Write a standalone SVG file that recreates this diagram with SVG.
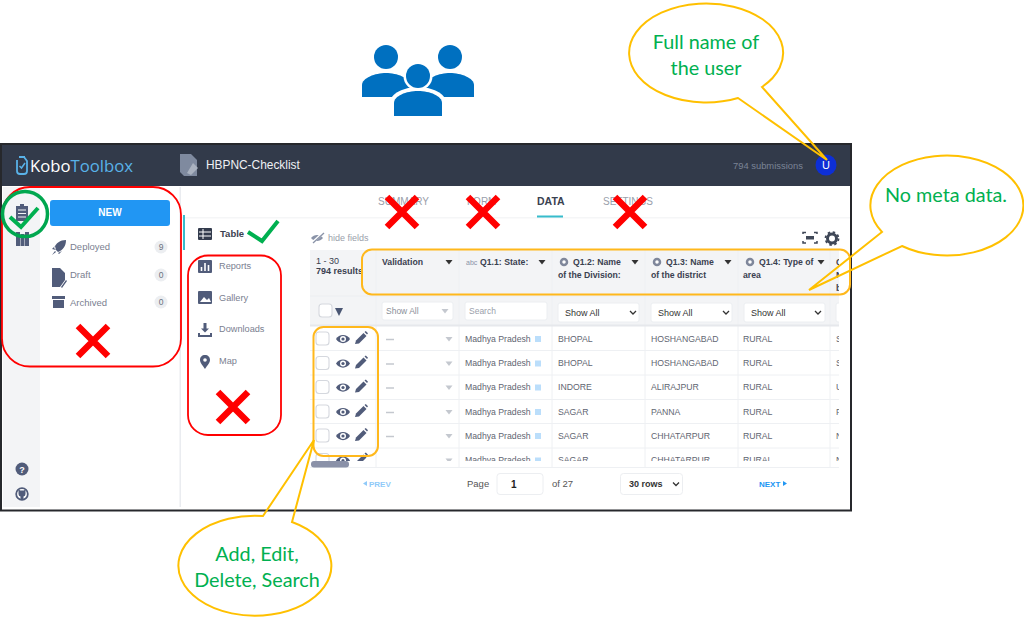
<svg xmlns="http://www.w3.org/2000/svg" xmlns:xlink="http://www.w3.org/1999/xlink" width="1024" height="618" viewBox="0 0 1024 618">
<style>
text{font-family:"Liberation Sans",Arial,sans-serif}
.ui{font-size:9.500px;fill:#7a8090}
.nav{font-size:9.200px;fill:#7a8090}
.hd{font-size:8.700px;font-weight:700;fill:#3a4150}
.cell{font-size:8.700px;fill:#5f6672}
.dark{font-size:9.500px;fill:#555}
.tab{font-size:10px;fill:#9aa0ab}
.call{font-family:Lato,"Noto Sans",sans-serif;font-size:19.800px;fill:#00b050;text-anchor:middle}
.bubble{fill:none;stroke:#ffc000;stroke-width:2}
.hl{fill:none;stroke:#ffb81c;stroke-width:2}
.redbox{fill:none;stroke:#ff0000;stroke-width:1.800}
.x{stroke:#ff0000;stroke-width:6.500;fill:none}
.chk{stroke:#00b050;stroke-width:4;fill:none}
.ic{fill:#515c7a}
.box{fill:#fff;stroke:#eceef1;stroke-width:1}
.cb{fill:#fff;stroke:#d5d8de;stroke-width:1.100}
.sep{stroke:#eef0f3;stroke-width:1}
</style>
<defs>
<g id="xmark"><path class="x" d="M-15,-15L15,15M15,-15L-15,15"/></g>
<g id="eye"><path class="ic" d="M-7,0C-4,-5.500 4,-5.500 7,0C4,5.500 -4,5.500 -7,0Z"/><circle r="3" fill="#fff"/><circle r="1.600" class="ic"/></g>
<g id="pencil"><path class="ic" d="M-6,6L-5,2.500L2.500,-5L5.500,-2L-2,5.500Z"/><path class="ic" d="M3.500,-6L4.800,-7L7,-4.800L6,-3.500Z"/></g>
<path id="caret" d="M-3.500,-2H3.500L0,2.500Z" fill="#333"/>
<path id="gcaret" d="M-3.500,-2H3.500L0,2.500Z" fill="#c4c8cf"/>
<path id="chev" d="M-3,-1.500L0,1.500L3,-1.500" fill="none" stroke="#333" stroke-width="1.300"/>
<clipPath id="rowclip"><rect x="310" y="327" width="529" height="134"/></clipPath>
<clipPath id="hdclip"><rect x="310" y="250" width="529" height="45"/></clipPath>
<clipPath id="fclip"><rect x="310" y="298" width="529" height="28"/></clipPath>
</defs>
<rect width="1024" height="618" fill="#fff"/>

<g id="people-icon" fill="#0070c0">
<circle cx="386" cy="57" r="12"/><circle cx="450" cy="57" r="12"/>
<path d="M362,97V85C362,78 375,73 386,73C397,73 410,78 410,85V97Z"/>
<path d="M426,97V85C426,78 439,73 450,73C461,73 474,78 474,85V97Z"/>
<circle cx="418" cy="76" r="14.500" fill="#fff"/>
<path d="M390,118V103C390,93 405,87 418,87C431,87 446,93 446,103V118Z" fill="#fff"/>
<circle cx="418" cy="76" r="12"/>
<path d="M394,116V103C394,96 406,91 418,91C430,91 442,96 442,103V116Z"/>
</g>

<g id="app-frame">
<rect x="1" y="144" width="850" height="366.500" fill="#fff" stroke="#26282c" stroke-width="2"/>
<rect x="2" y="145" width="848" height="41" fill="#323a4a"/>
<rect x="3" y="187" width="37" height="320" fill="#f3f4f6"/>
<rect x="179.500" y="187" width="1.500" height="320" fill="#eaecf0"/>
<rect x="181" y="217" width="669" height="1.500" fill="#f5f6f7"/>
</g>

<g id="header">
<path d="M19,157H25M17,160V171Q17,174 20,174H24Q27,174 27,171V161L24,157" fill="none" stroke="#59b2e8" stroke-width="1.800"/>
<path d="M19.500,166L21.500,168L25,163" fill="none" stroke="#59b2e8" stroke-width="1.500"/>
<text x="30" y="172" style="font-size:16.700px;fill:#fff;font-family:'Open Sans','Liberation Sans',sans-serif"><tspan>Kobo</tspan><tspan fill="#59b2e8">Toolbox</tspan></text>
<path d="M180,154H191L197,160V176H184L180,172Z" fill="#7f8a9f"/>
<path d="M187,173L193,163L198,168L191,175Z" fill="#aab2c0"/>
<text x="206" y="169" style="font-size:11.900px;fill:#eef0f4">HBPNC-Checklist</text>
<text x="733" y="169" style="font-size:9.400px;fill:#7b8496">794 submissions</text>
<circle cx="826" cy="165" r="10.500" fill="#0d2fd6"/>
<text x="826" y="169" text-anchor="middle" style="font-size:11px;fill:#fff">U</text>
</g>

<g id="sidebar">
<g class="ic">
<path d="M16,206H20V204H24V206H28V221H16Z"/>
<path d="M16,232H20V246H16ZM20.500,234H24.500V246H20.500ZM25,232H29V246H25Z"/>
</g>
<path d="M18,210H26M18,213.500H26M18,217H26" stroke="#f3f4f6" stroke-width="1.200"/>
<rect x="50" y="200" width="120" height="26" rx="3" fill="#2196f3"/>
<text x="110" y="216" text-anchor="middle" style="font-size:10px;font-weight:700;fill:#fff">NEW</text>
<path class="ic" d="M66,240C60,240 56,243 54,248L58,252C63,250 66,246 66,240ZM52,249L55,246L56,250ZM59,254L62,251L58,253ZM52,255L55,251L56,252Z"/>
<path class="ic" d="M52,268H60L65,273V280L60,287H52ZM61,287L66,280L67,281L62,288Z"/>
<path class="ic" d="M52,296H65V299H52ZM53,300H64V308H53Z"/>
<text class="ui" x="70" y="250">Deployed</text>
<text class="ui" x="70" y="278">Draft</text>
<text class="ui" x="70" y="306">Archived</text>
<g fill="#eceef1"><circle cx="161" cy="247" r="6.500"/><circle cx="161" cy="275" r="6.500"/><circle cx="161" cy="302" r="6.500"/></g>
<g style="font-size:8.500px;fill:#6b7280" text-anchor="middle"><text x="161" y="250">9</text><text x="161" y="278">0</text><text x="161" y="305">0</text></g>
<circle class="ic" cx="22" cy="469" r="6.500"/>
<text x="22" y="472.500" text-anchor="middle" style="font-size:9px;font-weight:700;fill:#fff">?</text>
<circle cx="22" cy="494" r="5.800" fill="#fff" stroke="#515c7a" stroke-width="1.800"/>
<path class="ic" d="M18.500,489.500L20.300,490.500H23.700L25.500,489.500V494Q25.500,496 23.500,496.500V499.500H20.500V496.500Q18.500,496 18.500,494Z"/>
</g>

<g id="view-nav">
<rect x="183" y="215" width="2" height="35" fill="#37bccc"/>
<rect x="198" y="228" width="14" height="12" rx="1" fill="#333b4d"/>
<path d="M199,232H211M199,236H211M203,229V239" stroke="#fff" stroke-width="1"/>
<text x="220" y="237" style="font-size:9.500px;font-weight:700;fill:#3a4150">Table</text>
<rect class="ic" x="198" y="260" width="14" height="13" rx="1"/>
<path d="M201.500,271V267M205,271V263M208.500,271V265" stroke="#fff" stroke-width="1.600"/>
<rect class="ic" x="198" y="291" width="14" height="13" rx="1"/>
<path d="M200,302L204,297L207,300L209,298L211,302Z" fill="#fff"/>
<path class="ic" d="M203.500,323H206.500V328.500H209L205,332.500L201,328.500H203.500ZM198,333H200V335H210V333H212V337H198Z"/>
<path class="ic" d="M205,355C208,355 210,357 210,360C210,363 206,367 205,369C204,367 200,363 200,360C200,357 202,355 205,355Z"/>
<circle cx="205" cy="360" r="1.800" fill="#fff"/>
<text class="nav" x="219" y="269">Reports</text>
<text class="nav" x="219" y="301">Gallery</text>
<text class="nav" x="219" y="332">Downloads</text>
<text class="nav" x="219" y="364">Map</text>
</g>

<g id="tabs">
<text class="tab" x="378" y="205">SUMMARY</text>
<text class="tab" x="467" y="205">FORM</text>
<text x="537" y="205" style="font-size:10.500px;font-weight:700;fill:#3a4150">DATA</text>
<rect x="537" y="215.500" width="26" height="2" fill="#37bccc"/>
<text class="tab" x="603" y="205">SETTINGS</text>
</g>

<g id="table-tools">
<path d="M311,238C314,234 320,234 323,238C320,242 314,242 311,238Z" fill="#8a93a8"/>
<path d="M312,243L323,233" stroke="#fff" stroke-width="2.500"/><path d="M313,243L324,233" stroke="#8a93a8" stroke-width="1.300"/>
<text x="328" y="241" style="font-size:9px;fill:#9aa0ab">hide fields</text>
<path d="M803,234V232.500H806M814,232.500H817V234M803,241V243H806M814,243H817V241" fill="none" stroke="#3f4757" stroke-width="1.500"/>
<rect x="806" y="236" width="8" height="3.500" fill="#3f4757"/>
<circle cx="832" cy="238.500" r="4.500" fill="none" stroke="#3f4757" stroke-width="3"/>
<circle cx="832" cy="238.500" r="6.500" fill="none" stroke="#3f4757" stroke-width="1.800" stroke-dasharray="2.500 2.600"/>
</g>

<g id="data-table">
<rect x="310" y="250" width="529" height="76" fill="#f3f4f6"/>
<g class="sep"><path d="M376,250V467M459,250V467M552,250V467M645,250V467M738,250V467M830,250V467"/></g>
<path d="M310,296H839" stroke="#eceef1"/>
<path d="M310,325.500H839" stroke="#e6e8ec" stroke-width="2"/>
<path class="sep" d="M310,350.500H839M310,375H839M310,399.500H839M310,423.500H839M310,448H839"/>
<path d="M310,467.500H839" stroke="#eef0f3"/>
<text x="316" y="264" style="font-size:9px;fill:#3a4150">1 - 30</text>
<text x="316" y="274" style="font-size:9px;font-weight:700;fill:#3a4150">794 results</text>
<g clip-path="url(#hdclip)">
<text class="hd" x="382" y="265">Validation</text>
<use xlink:href="#caret" href="#caret" x="449" y="262"/>
<text x="466" y="265" style="font-size:7px;fill:#8a93a8">abc</text>
<text class="hd" x="480" y="265">Q1.1: State:</text>
<use xlink:href="#caret" href="#caret" x="542" y="262"/>
<g fill="#fff" stroke="#7f879b" stroke-width="2.500"><circle cx="564" cy="262" r="3"/><circle cx="657" cy="262" r="3"/><circle cx="750" cy="262" r="3"/></g>
<text class="hd" x="573" y="265">Q1.2: Name</text><text class="hd" x="558" y="278">of the Division:</text>
<use xlink:href="#caret" href="#caret" x="635" y="262"/>
<text class="hd" x="666" y="265">Q1.3: Name</text><text class="hd" x="651" y="278">of the district</text>
<use xlink:href="#caret" href="#caret" x="728" y="262"/>
<text class="hd" x="759" y="265">Q1.4: Type of</text><text class="hd" x="743" y="278">area</text>
<use xlink:href="#caret" href="#caret" x="821" y="262"/>
<text class="hd" x="836" y="265">Q</text><text class="hd" x="836" y="278">N</text><text class="hd" x="836" y="291">b</text>
</g>
<rect class="cb" x="319" y="304" width="13" height="13" rx="3"/>
<path d="M335,308H343L339,316Z" fill="#4a5673"/>
<g clip-path="url(#fclip)">
<rect class="box" x="382" y="302" width="71" height="18" rx="2"/>
<text x="386" y="314" style="font-size:8.500px;fill:#8a8f99">Show All</text>
<use xlink:href="#gcaret" href="#gcaret" x="445" y="311"/>
<rect class="box" x="465" y="302" width="82" height="18" rx="2"/>
<text x="469" y="314" style="font-size:8.500px;fill:#9aa0ab">Search</text>
<rect class="box" x="558" y="303" width="81" height="19" rx="2"/><text x="565" y="315.500" style="font-size:9px;fill:#333">Show All</text><use xlink:href="#chev" href="#chev" x="633" y="312.500"/>
<rect class="box" x="651" y="303" width="81" height="19" rx="2"/><text x="658" y="315.500" style="font-size:9px;fill:#333">Show All</text><use xlink:href="#chev" href="#chev" x="726" y="312.500"/>
<rect class="box" x="744" y="303" width="81" height="19" rx="2"/><text x="751" y="315.500" style="font-size:9px;fill:#333">Show All</text><use xlink:href="#chev" href="#chev" x="818" y="312.500"/>
<rect class="box" x="836" y="303" width="20" height="19" rx="2"/>
</g>
<g clip-path="url(#rowclip)">
<g id="row1" transform="translate(0,339)"><rect class="cb" x="316" y="-7" width="13" height="13" rx="3"/><use xlink:href="#eye" href="#eye" x="343"/><use xlink:href="#pencil" href="#pencil" x="361" y="-1"/><path d="M386,0.500H394" stroke="#c4c8cf" stroke-width="1.500"/><use xlink:href="#gcaret" href="#gcaret" x="449"/><text class="cell" x="465" y="2.500">Madhya Pradesh</text><rect x="535" y="-3" width="6" height="6" fill="#bbdefb"/><text class="cell" x="558" y="2.500">BHOPAL</text><text class="cell" x="651" y="2.500">HOSHANGABAD</text><text class="cell" x="743" y="2.500">RURAL</text><text class="cell" x="836" y="2.500">S</text></g>
<g id="row2" transform="translate(0,363.500)"><rect class="cb" x="316" y="-7" width="13" height="13" rx="3"/><use xlink:href="#eye" href="#eye" x="343"/><use xlink:href="#pencil" href="#pencil" x="361" y="-1"/><path d="M386,0.500H394" stroke="#c4c8cf" stroke-width="1.500"/><use xlink:href="#gcaret" href="#gcaret" x="449"/><text class="cell" x="465" y="2.500">Madhya Pradesh</text><rect x="535" y="-3" width="6" height="6" fill="#bbdefb"/><text class="cell" x="558" y="2.500">BHOPAL</text><text class="cell" x="651" y="2.500">HOSHANGABAD</text><text class="cell" x="743" y="2.500">RURAL</text><text class="cell" x="836" y="2.500">S</text></g>
<g id="row3" transform="translate(0,387.500)"><rect class="cb" x="316" y="-7" width="13" height="13" rx="3"/><use xlink:href="#eye" href="#eye" x="343"/><use xlink:href="#pencil" href="#pencil" x="361" y="-1"/><path d="M386,0.500H394" stroke="#c4c8cf" stroke-width="1.500"/><use xlink:href="#gcaret" href="#gcaret" x="449"/><text class="cell" x="465" y="2.500">Madhya Pradesh</text><rect x="535" y="-3" width="6" height="6" fill="#bbdefb"/><text class="cell" x="558" y="2.500">INDORE</text><text class="cell" x="651" y="2.500">ALIRAJPUR</text><text class="cell" x="743" y="2.500">RURAL</text><text class="cell" x="836" y="2.500">U</text></g>
<g id="row4" transform="translate(0,412)"><rect class="cb" x="316" y="-7" width="13" height="13" rx="3"/><use xlink:href="#eye" href="#eye" x="343"/><use xlink:href="#pencil" href="#pencil" x="361" y="-1"/><path d="M386,0.500H394" stroke="#c4c8cf" stroke-width="1.500"/><use xlink:href="#gcaret" href="#gcaret" x="449"/><text class="cell" x="465" y="2.500">Madhya Pradesh</text><rect x="535" y="-3" width="6" height="6" fill="#bbdefb"/><text class="cell" x="558" y="2.500">SAGAR</text><text class="cell" x="651" y="2.500">PANNA</text><text class="cell" x="743" y="2.500">RURAL</text><text class="cell" x="836" y="2.500">F</text></g>
<g id="row5" transform="translate(0,436)"><rect class="cb" x="316" y="-7" width="13" height="13" rx="3"/><use xlink:href="#eye" href="#eye" x="343"/><use xlink:href="#pencil" href="#pencil" x="361" y="-1"/><path d="M386,0.500H394" stroke="#c4c8cf" stroke-width="1.500"/><use xlink:href="#gcaret" href="#gcaret" x="449"/><text class="cell" x="465" y="2.500">Madhya Pradesh</text><rect x="535" y="-3" width="6" height="6" fill="#bbdefb"/><text class="cell" x="558" y="2.500">SAGAR</text><text class="cell" x="651" y="2.500">CHHATARPUR</text><text class="cell" x="743" y="2.500">RURAL</text><text class="cell" x="836" y="2.500">N</text></g>
<g id="row6" transform="translate(0,460.500)"><rect class="cb" x="316" y="-7" width="13" height="13" rx="3"/><use xlink:href="#eye" href="#eye" x="343"/><use xlink:href="#pencil" href="#pencil" x="361" y="-1"/><use xlink:href="#gcaret" href="#gcaret" x="449"/><text class="cell" x="465" y="2.500">Madhya Pradesh</text><rect x="535" y="-3" width="6" height="6" fill="#bbdefb"/><text class="cell" x="558" y="2.500">SAGAR</text><text class="cell" x="651" y="2.500">CHHATARPUR</text><text class="cell" x="743" y="2.500">RURAL</text><text class="cell" x="836" y="2.500">N</text></g>
</g>
<rect x="311" y="461" width="38" height="6.500" rx="3" fill="#8a91a8"/>
</g>

<g id="pagination">
<path d="M363,483.500L367,481V486Z" fill="#90caf9"/>
<text x="369" y="486.500" style="font-size:8px;font-weight:700;fill:#90caf9">PREV</text>
<text x="467" y="487" class="dark">Page</text>
<rect class="box" x="497" y="473.500" width="46" height="21" rx="3"/>
<text x="511" y="487.500" style="font-size:10px;font-weight:700;fill:#222">1</text>
<text x="552" y="487" class="dark">of 27</text>
<rect class="box" x="620.500" y="473.500" width="62" height="21" rx="3"/>
<text x="629" y="487" style="font-size:9px;font-weight:700;fill:#333">30 rows</text>
<use xlink:href="#chev" href="#chev" x="676" y="484"/>
<text x="759" y="486.500" style="font-size:8px;font-weight:700;fill:#2196f3">NEXT</text>
<path d="M783,481L787,483.500L783,486Z" fill="#2196f3"/>
</g>

<g id="highlights">
<rect class="redbox" x="2" y="187" width="179" height="179.500" rx="28"/>
<rect class="redbox" x="188" y="255.500" width="93" height="179.500" rx="20"/>
<rect class="hl" x="362" y="249.500" width="488" height="45" rx="10"/>
<rect class="hl" x="313.500" y="327" width="64.500" height="129" rx="10"/>
<circle cx="25" cy="214" r="22.500" fill="none" stroke="#00a74f" stroke-width="3.500"/>
<path class="chk" d="M10,217L21,227L38,208"/>
<path class="chk" d="M248,232L262,241L278,221"/>
<use xlink:href="#xmark" href="#xmark" x="93" y="341"/>
<use xlink:href="#xmark" href="#xmark" x="233" y="407"/>
<use xlink:href="#xmark" href="#xmark" x="402" y="212"/>
<use xlink:href="#xmark" href="#xmark" x="483" y="212"/>
<use xlink:href="#xmark" href="#xmark" x="630" y="212"/>
</g>

<g id="callout-user">
<path class="bubble" d="M738,98A77,49.500 0 1 1 762,87L827,160Z"/>
<text class="call" x="706" y="49">Full name of</text>
<text class="call" x="706" y="75">the user</text>
</g>
<g id="callout-meta">
<path class="bubble" d="M882,232A76.500,50 0 1 1 902,246L809,290Z"/>
<text class="call" x="946" y="202">No meta data.</text>
</g>
<g id="callout-actions">
<path class="bubble" d="M292,522A76.500,50 0 1 1 263,516L314,440Z"/>
<text class="call" x="257" y="561">Add, Edit,</text>
<text class="call" x="257" y="587">Delete, Search</text>
</g>
</svg>
